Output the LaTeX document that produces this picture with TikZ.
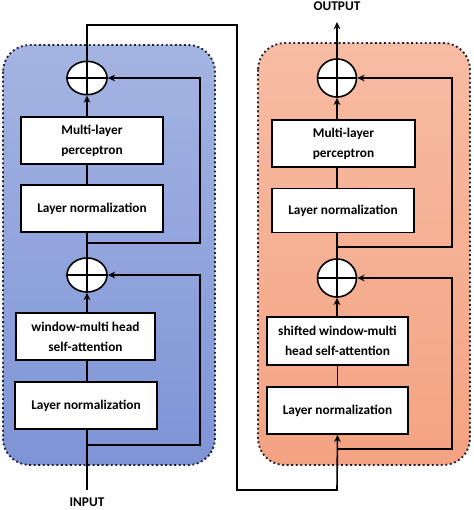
\documentclass[tikz,border=0pt]{standalone}
\usepackage{fontspec}
\setmainfont{Carlito}
\usetikzlibrary{arrows.meta,shapes.geometric}
\definecolor{bluetop}{RGB}{164,180,226}
\definecolor{bluebot}{RGB}{126,148,214}
\definecolor{salmtop}{RGB}{247,188,163}
\definecolor{salmbot}{RGB}{244,163,130}
\definecolor{dotcol}{RGB}{30,30,50}
\tikzset{
  blk/.style={draw=black, line width=1.2pt, fill=white, align=center, inner sep=0pt,
    font=\fontsize{10}{15}\selectfont\bfseries},
  sumnode/.style={draw=black, line width=1.2pt, fill=white, ellipse, inner sep=0pt},
  conn/.style={line width=1.2pt, draw=black},
  arr/.style={conn, -{Stealth[length=5.5pt,width=5pt]}},
  panel/.style={draw=dotcol, line width=1.4pt, dotted, rounded corners=20pt},
  lbl/.style={font=\fontsize{10}{12}\selectfont\bfseries, inner sep=0pt}
}
\begin{document}
\begin{tikzpicture}[x=0.75pt,y=-0.75pt]
\useasboundingbox (0,0) rectangle (474,510);
% panels
\path[rounded corners=20pt, top color=bluetop, bottom color=bluebot] (3,45) rectangle (215,465);
\path[panel] (3,45) rectangle (215,465);
\path[rounded corners=20pt, top color=salmtop, bottom color=salmbot] (258,43) rectangle (470,465);
\path[panel] (258,43) rectangle (470,465);

% left column
\node[blk, minimum width=106.5pt, minimum height=35.25pt] (lmlp) at (92,140.5) {Multi-layer\\perceptron};
\node[blk, minimum width=106.5pt, minimum height=35.25pt] (lln1) at (92,208.5) {Layer normalization};
\node[blk, minimum width=104.25pt, minimum height=35.25pt] (lwm) at (85.5,336.5) {window-multi head\\self-attention};
\node[blk, minimum width=106.5pt, minimum height=35.25pt] (lln2) at (86,405.5) {Layer normalization};
\node[sumnode, minimum width=30pt, minimum height=25pt] (ls1) at (87,78) {};
\node[sumnode, minimum width=30pt, minimum height=25.5pt] (ls2) at (87,275) {};
\draw[conn] (ls1.west) -- (ls1.east) (ls1.north) -- (ls1.south);
\draw[conn] (ls2.west) -- (ls2.east) (ls2.north) -- (ls2.south);

% right column
\node[blk, minimum width=107.25pt, minimum height=35.25pt] (rmlp) at (343.5,143.5) {Multi-layer\\perceptron};
\node[blk, minimum width=106.5pt, minimum height=33pt] (rln1) at (343,210.5) {Layer normalization};
\node[blk, minimum width=105.75pt, minimum height=36pt] (rsw) at (337.5,341) {shifted window-multi\\head self-attention};
\node[blk, minimum width=105.75pt, minimum height=35.25pt] (rln2) at (337.5,410.5) {Layer normalization};
\node[sumnode, minimum width=29.25pt, minimum height=28.5pt] (rs1) at (337,78) {};
\node[sumnode, minimum width=29.25pt, minimum height=28.5pt] (rs2) at (337,278) {};
\draw[conn] (rs1.west) -- (rs1.east) (rs1.north) -- (rs1.south);
\draw[conn] (rs2.west) -- (rs2.east) (rs2.north) -- (rs2.south);

% labels
\node[lbl] (inp) at (87,502) {INPUT};
\node[lbl] (outp) at (337,6) {OUTPUT};

% coordinates
\coordinate (inbot) at (87,490);
\coordinate (lk2) at (87,445);
\coordinate (lk1) at (87,243);
\coordinate (outtip) at (337,22);
\coordinate (rk2) at (337,449);
\coordinate (rk1) at (337,247);

% left connectors
\draw[conn] (inbot) -- (lln2.south -| inbot);
\draw[conn] (lln2.north -| inbot) -- (lwm.south -| inbot);
\draw[arr] (lwm.north -| inbot) -- (ls2.south);
\draw[arr] (lk2) -- (200,445) -- (200,275) -- (ls2.east);
\draw[conn] (ls2.north) -- (lln1.south -| inbot);
\draw[conn] (lln1.north -| inbot) -- (lmlp.south -| inbot);
\draw[arr] (lk1) -- (200,243) -- (200,78) -- (ls1.east);
\draw[arr] (lmlp.north -| inbot) -- (ls1.south);
\draw[arr] (ls1.north) -- (87,25) -- (237,25) -- (237,490) -- (337,490) -- (rln2.south);

% right connectors
\draw[conn] (rln2.north) -- (rsw.south -| rln2.north);
\draw[arr] (rsw.north -| rs2.south) -- (rs2.south);
\draw[arr] (rk2) -- (452,449) -- (452,278) -- (rs2.east);
\draw[conn] (rs2.north) -- (rln1.south -| rs2.north);
\draw[conn] (rln1.north -| rs2.north) -- (rmlp.south -| rs2.north);
\draw[arr] (rk1) -- (452,247) -- (452,78) -- (rs1.east);
\draw[arr] (rmlp.north -| rs1.south) -- (rs1.south);
\draw[arr] (rs1.north) -- (outtip);
\end{tikzpicture}
\end{document}
